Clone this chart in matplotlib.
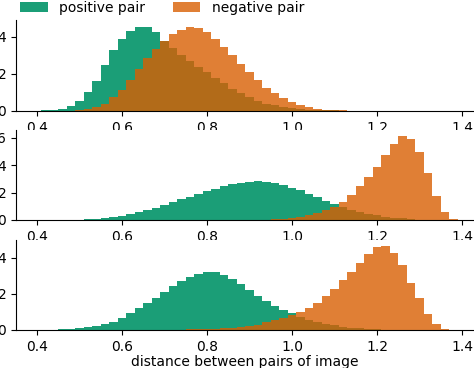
import matplotlib
matplotlib.use("Agg")
import matplotlib.pyplot as plt

# bin centres shared by every histogram
bins = [0.36, 0.38, 0.40, 0.42, 0.44, 0.46, 0.48, 0.50, 0.52, 0.54,
        0.56, 0.58, 0.60, 0.62, 0.64, 0.66, 0.68, 0.70, 0.72, 0.74,
        0.76, 0.78, 0.80, 0.82, 0.84, 0.86, 0.88, 0.90, 0.92, 0.94,
        0.96, 0.98, 1.00, 1.02, 1.04, 1.06, 1.08, 1.10, 1.12, 1.14,
        1.16, 1.18, 1.20, 1.22, 1.24, 1.26, 1.28, 1.30, 1.32, 1.34,
        1.36, 1.38, 1.40]

# density values (top to bottom)
pos_top = [0, 0, 0.01, 0.03, 0.06, 0.12, 0.25, 0.55, 1.0, 1.6,
           2.5, 3.3, 3.9, 4.3, 4.55, 4.55, 4.25, 3.8, 3.4, 3.0,
           2.7, 2.4, 2.1, 1.8, 1.5, 1.2, 0.95, 0.75, 0.55, 0.4,
           0.3, 0.22, 0.16, 0.12, 0.08, 0.06, 0.04, 0.03, 0.02, 0.01,
           0, 0, 0, 0, 0, 0, 0, 0, 0, 0,
           0, 0, 0]
neg_top = [0, 0, 0, 0, 0, 0, 0.02, 0.05, 0.1, 0.2,
           0.4, 0.75, 1.15, 1.65, 2.25, 2.85, 3.35, 3.8, 4.15, 4.4,
           4.55, 4.5, 4.25, 3.9, 3.45, 3.0, 2.55, 2.1, 1.65, 1.25,
           0.95, 0.7, 0.48, 0.32, 0.2, 0.13, 0.08, 0.05, 0.03, 0.02,
           0.01, 0, 0, 0, 0, 0, 0, 0, 0, 0,
           0, 0, 0]

pos_mid = [0, 0, 0, 0, 0, 0.01, 0.02, 0.03, 0.05, 0.08,
           0.13, 0.2, 0.3, 0.42, 0.55, 0.72, 0.9, 1.1, 1.3, 1.5,
           1.7, 1.9, 2.1, 2.28, 2.45, 2.6, 2.72, 2.8, 2.85, 2.8,
           2.7, 2.55, 2.35, 2.15, 1.9, 1.65, 1.4, 1.15, 0.95, 0.75,
           0.6, 0.46, 0.35, 0.25, 0.17, 0.11, 0.06, 0.03, 0.02, 0.01,
           0, 0, 0]
neg_mid = [0, 0, 0, 0, 0, 0, 0, 0, 0, 0,
           0, 0, 0, 0, 0, 0, 0, 0, 0, 0,
           0, 0, 0, 0, 0, 0, 0, 0.01, 0.02, 0.03,
           0.05, 0.1, 0.15, 0.24, 0.36, 0.52, 0.72, 0.95, 1.3, 1.85,
           2.45, 3.1, 3.85, 4.75, 5.55, 6.1, 5.9, 4.95, 3.4, 1.75,
           0.6, 0.1, 0]

pos_bot = [0, 0, 0, 0.01, 0.02, 0.04, 0.06, 0.1, 0.15, 0.22,
           0.32, 0.47, 0.68, 0.92, 1.2, 1.5, 1.8, 2.1, 2.42, 2.7,
           2.95, 3.12, 3.22, 3.2, 3.08, 2.85, 2.55, 2.22, 1.9, 1.6,
           1.35, 1.12, 0.92, 0.74, 0.58, 0.45, 0.34, 0.25, 0.18, 0.13,
           0.09, 0.06, 0.04, 0.02, 0.01, 0, 0, 0, 0, 0,
           0, 0, 0]
neg_bot = [0, 0, 0, 0, 0, 0, 0, 0, 0, 0,
           0, 0, 0, 0, 0, 0, 0, 0, 0.01, 0.02,
           0.03, 0.05, 0.07, 0.08, 0.1, 0.13, 0.16, 0.21, 0.3, 0.42,
           0.55, 0.68, 0.82, 1.0, 1.2, 1.48, 1.9, 2.3, 2.75, 3.2,
           3.72, 4.2, 4.6, 4.65, 4.25, 3.6, 2.6, 1.75, 0.9, 0.35,
           0.08, 0.01, 0]

panels = [(pos_top, neg_top, 4.92, [0, 2, 4]),
          (pos_mid, neg_mid, 6.55, [0, 2, 4, 6]),
          (pos_bot, neg_bot, 5.0, [0, 2, 4])]

green = '#1b9e77'
orange = '#d95f02'

fig = plt.figure(figsize=(4.74, 3.68), dpi=100)
plt.rcParams['font.size'] = 10

bottoms = [0.6984, 0.4022, 0.1033]
heights = [0.2473, 0.2446, 0.2446]

for (pos, neg, ytop, yt), b, h in zip(panels, bottoms, heights):
    ax = fig.add_axes([16 / 474, b, 1 - 16 / 474, h])
    ax.bar(bins, pos, width=0.02, color=green, linewidth=0, label='positive pair')
    ax.bar(bins, neg, width=0.02, color=orange, alpha=0.8, linewidth=0, label='negative pair')
    ax.set_xlim(0.3506, 1.428)
    ax.set_ylim(0, ytop)
    ax.set_yticks(yt)
    ax.set_xticks([0.4, 0.6, 0.8, 1.0, 1.2, 1.4])
    ax.spines['top'].set_visible(False)
    ax.spines['right'].set_visible(False)

ax.set_xlabel('distance between pairs of image', labelpad=1)

handles, labels = fig.axes[0].get_legend_handles_labels()
fig.legend(handles, labels, loc='center left', bbox_to_anchor=(20 / 474, 1 - 8 / 368),
           ncol=2, frameon=False, borderpad=0, borderaxespad=0,
           handlelength=2.0, handletextpad=0.8, columnspacing=2.0)

fig.savefig('out.png', dpi=100)
